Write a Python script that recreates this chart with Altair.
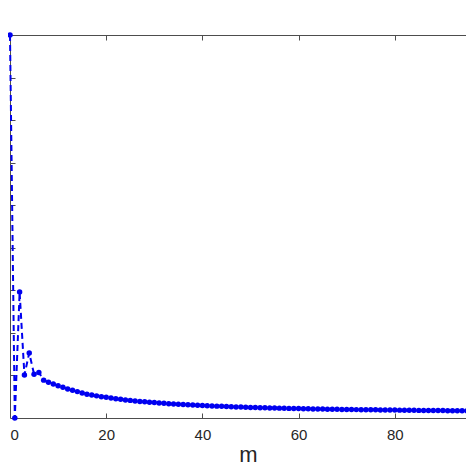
import altair as alt
import pandas as pd

m_values = list(range(0, 101))
s_values = [
    0.900, 0.000, 0.296, 0.101, 0.153, 0.103, 0.107, 0.089, 0.084, 0.080,
    0.076, 0.072, 0.068, 0.065, 0.062, 0.059, 0.056, 0.054, 0.052, 0.050,
    0.0486, 0.0470, 0.0454, 0.0440, 0.0425, 0.0414, 0.0402, 0.0390, 0.0380, 0.0371,
    0.0362, 0.0353, 0.0345, 0.0337, 0.0329, 0.0323, 0.0317, 0.0311, 0.0306, 0.0300,
    0.0294, 0.0289, 0.0284, 0.0279, 0.0275, 0.0270, 0.0266, 0.0261, 0.0257, 0.0253,
    0.0249, 0.0246, 0.0243, 0.0240, 0.0237, 0.0235, 0.0232, 0.0229, 0.0226, 0.0224,
    0.0221, 0.0219, 0.0216, 0.0214, 0.0211, 0.0209, 0.0207, 0.0205, 0.0203, 0.0202,
    0.0200, 0.0198, 0.0197, 0.0196, 0.0194, 0.0193, 0.0192, 0.0190, 0.0189, 0.0187,
    0.0186, 0.0185, 0.0183, 0.0182, 0.0180, 0.0179, 0.0178, 0.0177, 0.0176, 0.0175,
    0.0174, 0.0173, 0.0172, 0.0171, 0.0170, 0.0169, 0.0169, 0.0168, 0.0167, 0.0166,
    0.0165,
]
x_ticks = [0, 20, 40, 60, 80]
y_ticks = [0.1, 0.2, 0.3, 0.4, 0.5, 0.6, 0.7, 0.8]

df = pd.DataFrame({"m": m_values, "v": s_values})

W, H = 481, 383
AX = "#4d4d4d"
BLUE = "#0000f0"

xs = alt.Scale(domain=[0, 100], nice=False, zero=False)
ys = alt.Scale(domain=[0, 0.9], nice=False)

line = alt.Chart(df).mark_line(color=BLUE, strokeWidth=2, strokeDash=[6, 4]).encode(
    x=alt.X("m:Q", scale=xs, axis=alt.Axis(
        orient="bottom", values=x_ticks, ticks=False, tickSize=0, labelPadding=9,
        labelFontSize=15, labelFont="Liberation Sans", labelColor="#262626",
        domainColor=AX, domainWidth=1, grid=False, title="m",
        titleFont="Liberation Sans", titleFontSize=22, titleFontWeight="normal",
        titleColor="#262626", titleBaseline="alphabetic", titleY=43, titleX=238)),
    y=alt.Y("v:Q", scale=ys, axis=alt.Axis(
        orient="left", ticks=False, tickSize=0, labels=False, grid=False,
        domainColor=AX, domainWidth=1, title=None)),
)

points = alt.Chart(df).mark_circle(color=BLUE, size=30, opacity=1).encode(
    x=alt.X("m:Q", scale=xs, axis=alt.Axis(
        orient="top", offset=-H, values=[20, 40, 60, 80], ticks=True, tickSize=5,
        tickColor=AX, labels=False, domain=False, grid=False, title=None)),
    y=alt.Y("v:Q", scale=ys, axis=alt.Axis(
        orient="right", offset=-W, values=y_ticks, ticks=True, tickSize=5,
        tickColor=AX, labels=False, domain=False, grid=False, title=None)),
)

frame = alt.Chart(df).mark_circle(opacity=0).encode(
    x=alt.X("m:Q", scale=xs, axis=alt.Axis(
        orient="bottom", offset=-H, values=[20, 40, 60, 80], ticks=True, tickSize=5,
        tickColor=AX, labels=False, domain=True, domainColor=AX, domainWidth=1,
        grid=False, title=None)),
    y=alt.Y("v:Q", scale=ys, axis=None),
)

chart = alt.layer(line, points, frame).resolve_axis(
    x="independent", y="independent"
).properties(
    width=W, height=H,
    autosize=alt.AutoSizeParams(type="none"),
    padding={"left": 2, "right": -25, "top": 27, "bottom": 48},
).configure_view(stroke=None)

chart.save("out.html", embed_options={"renderer": "svg", "actions": False})
